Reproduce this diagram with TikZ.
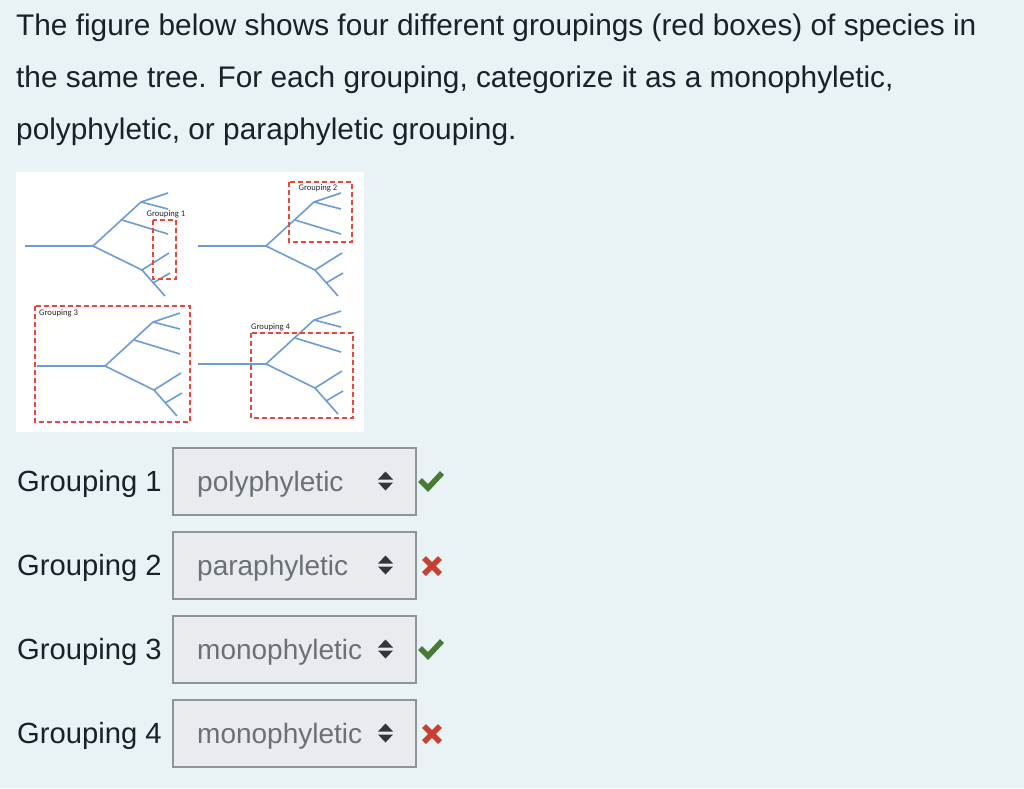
\documentclass[tikz,border=0pt]{standalone}
\usepackage{fontspec}
\setmainfont{Liberation Sans}
\newfontfamily\smallfont{Carlito}
\definecolor{bg}{HTML}{E9F2F5}
\definecolor{txt}{HTML}{17232A}
\definecolor{branchblue}{HTML}{6C9BD6}
\definecolor{boxred}{HTML}{E8463E}
\definecolor{selfill}{HTML}{E9EBEF}
\definecolor{selborder}{HTML}{8F9499}
\definecolor{seltxt}{HTML}{6A7176}
\definecolor{arrowdark}{HTML}{30363B}
\definecolor{okgreen}{HTML}{467B36}
\definecolor{badred}{HTML}{C8402F}
\tikzset{
  branch/.style={draw=branchblue, line width=1.6pt},
  groupbox/.style={draw=boxred, line width=1.9pt, dash pattern=on 5pt off 3pt},
  tinylabel/.style={font=\smallfont\fontsize{8.6}{9}\selectfont, text=black!85, inner sep=0pt},
  bodytext/.style={font=\fontsize{29.8}{32}\selectfont, text=txt, inner sep=0pt, anchor=base west},
  grouptext/.style={font=\fontsize{29.2}{32}\selectfont, text=txt, inner sep=0pt, anchor=base west},
  seltext/.style={font=\fontsize{28}{32}\selectfont, text=seltxt, inner sep=0pt, anchor=base west},
  selbox/.style={draw=selborder, fill=selfill, line width=1.6pt},
  updown/.style={fill=arrowdark},
  okmark/.style={draw=okgreen, line width=5.5pt, miter limit=10},
  badmark/.style={draw=badred, line width=5.5pt},
}
\newcommand{\phylotree}[1]{%
  \coordinate (#1r) at (25,246);
  \coordinate (#1a) at (93,246);
  \coordinate (#1u) at (141,202);
  \coordinate (#1um) at (122,220);
  \coordinate (#1d) at (142,270);
  \coordinate (#1dm) at (153,283);
  \coordinate (#1l1) at (168,193);
  \coordinate (#1l2) at (168,209);
  \coordinate (#1l3) at (168,234);
  \coordinate (#1l4) at (169,253);
  \coordinate (#1l5) at (170,273);
  \coordinate (#1l6) at (165,296);
  \draw[branch] (#1r) -- (#1a) -- (#1u) -- (#1l1);
  \draw[branch] (#1u) -- (#1l2);
  \draw[branch] (#1um) -- (#1l3);
  \draw[branch] (#1a) -- (#1d) -- (#1l4);
  \draw[branch] (#1d) -- (#1l6);
  \draw[branch] (#1dm) -- (#1l5);
}
\begin{document}
\begin{tikzpicture}[x=1pt,y=-1pt]
\fill[bg] (0,0) rectangle (1024,788);
\useasboundingbox (0,0) rectangle (1024,788);
% question text
\node[bodytext] (q1) at (16,35) {The figure below shows four different groupings (red boxes) of species in};
\node[bodytext] (q2) at (16,87) {the same tree. For each grouping, categorize it as a monophyletic,};
\node[bodytext] (q3) at (16,139) {polyphyletic, or paraphyletic grouping.};
% figure panel
\fill[white] (16,172) rectangle (364,432);
\begin{scope}\phylotree{A}\end{scope}
\begin{scope}[shift={(173,0)}]\phylotree{B}\end{scope}
\begin{scope}[shift={(12,120)}]\phylotree{C}\end{scope}
\begin{scope}[shift={(173,118)}]\phylotree{D}\end{scope}
\draw[groupbox] (153,220) rectangle (176,279);
\node[tinylabel] (g1) at (166,214) {Grouping 1};
\draw[groupbox] (289,182) rectangle (352,242);
\node[tinylabel] (g2) at (318,188) {Grouping 2};
\draw[groupbox] (35,306) rectangle (190,422);
\node[tinylabel, anchor=west] (g3) at (39,313) {Grouping 3};
\draw[groupbox] (251,333) rectangle (353,418);
\node[tinylabel, anchor=west] (g4) at (251,327) {Grouping 4};
% answers
\foreach \i/\ans in {0/polyphyletic,1/paraphyletic,2/monophyletic,3/monophyletic}{
  \begin{scope}[shift={(0,84*\i)}]
    \node[grouptext] (lab\i) at (17,491) {Grouping \the\numexpr\i+1\relax};
    \draw[selbox] (173,448) rectangle (416,515);
    \node[seltext] (sel\i) at (197,491) {\ans};
    \fill[updown] (378,479.5) -- (393,479.5) -- (385.5,471.5) -- cycle;
    \fill[updown] (378,482.5) -- (393,482.5) -- (385.5,490.5) -- cycle;
  \end{scope}
}
\draw[okmark] (420,480) -- (428,488) -- (442,473);
\draw[okmark] (420,648) -- (428,656) -- (442,641);
\draw[badmark] (424,558) -- (440,574);
\draw[badmark] (440,558) -- (424,574);
\draw[badmark] (424,726) -- (440,742);
\draw[badmark] (440,726) -- (424,742);
\end{tikzpicture}
\end{document}
